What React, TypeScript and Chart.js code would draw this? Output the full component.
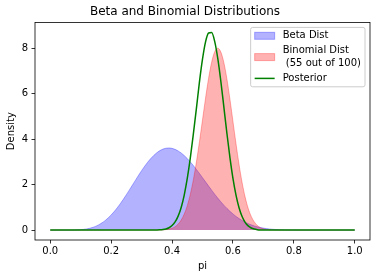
import { useEffect, useRef } from "react";
import { Chart, registerables } from "chart.js";

Chart.register(...registerables);

// Grid of success probabilities (pi) on [0, 1]
const PI_GRID = [
  0.0, 0.01, 0.02, 0.03, 0.04, 0.05, 0.06, 0.07, 0.08, 0.09,
  0.1, 0.11, 0.12, 0.13, 0.14, 0.15, 0.16, 0.17, 0.18, 0.19,
  0.2, 0.21, 0.22, 0.23, 0.24, 0.25, 0.26, 0.27, 0.28, 0.29,
  0.3, 0.31, 0.32, 0.33, 0.34, 0.35, 0.36, 0.37, 0.38, 0.39,
  0.4, 0.41, 0.42, 0.43, 0.44, 0.45, 0.46, 0.47, 0.48, 0.49,
  0.5, 0.51, 0.52, 0.53, 0.54, 0.55, 0.56, 0.57, 0.58, 0.59,
  0.6, 0.61, 0.62, 0.63, 0.64, 0.65, 0.66, 0.67, 0.68, 0.69,
  0.7, 0.71, 0.72, 0.73, 0.74, 0.75, 0.76, 0.77, 0.78, 0.79,
  0.8, 0.81, 0.82, 0.83, 0.84, 0.85, 0.86, 0.87, 0.88, 0.89,
  0.9, 0.91, 0.92, 0.93, 0.94, 0.95, 0.96, 0.97, 0.98, 0.99,
  1.0,
];

// Prior beta density
const BETA_DIST = [
  0, 0, 0, 0, 0.0001, 0.0003, 0.0009, 0.0022, 0.0051, 0.0103,
  0.019, 0.033, 0.053, 0.082, 0.121, 0.173, 0.239, 0.319, 0.417, 0.532,
  0.665, 0.815, 0.981, 1.161, 1.355, 1.56, 1.769, 1.985, 2.198, 2.412,
  2.616, 2.808, 2.988, 3.147, 3.286, 3.403, 3.496, 3.563, 3.602, 3.613,
  3.595, 3.552, 3.482, 3.392, 3.279, 3.147, 3.0, 2.839, 2.669, 2.491,
  2.306, 2.122, 1.938, 1.757, 1.58, 1.41, 1.249, 1.098, 0.957, 0.828,
  0.71, 0.603, 0.508, 0.424, 0.35, 0.286, 0.231, 0.185, 0.146, 0.114,
  0.088, 0.067, 0.05, 0.037, 0.027, 0.019, 0.0135, 0.0092, 0.0062, 0.0041,
  0.0026, 0.0017, 0.0011, 0.0007, 0.0004, 0.0002, 0, 0, 0, 0,
  0, 0, 0, 0, 0, 0, 0, 0, 0, 0,
  0,
];

// Likelihood of 55 successes out of 100, scaled as a density
const BINOMIAL_DIST = [
  0, 0, 0, 0, 0, 0, 0, 0, 0, 0,
  0, 0, 0, 0, 0, 0, 0, 0, 0, 0,
  0, 0, 0, 0, 0, 0, 0, 0, 0, 0,
  0, 0, 0, 0.0003, 0.0008, 0.002, 0.0046, 0.0102, 0.0216, 0.0434,
  0.083, 0.151, 0.264, 0.441, 0.703, 1.075, 1.577, 2.22, 2.999, 3.89,
  4.848, 5.803, 6.678, 7.381, 7.841, 8.0, 7.839, 7.375, 6.658, 5.764,
  4.782, 3.799, 2.887, 2.096, 1.453, 0.959, 0.602, 0.36, 0.203, 0.109,
  0.0549, 0.0261, 0.0116, 0.0048, 0.0019, 0.0007, 0.0002, 0, 0, 0,
  0, 0, 0, 0, 0, 0, 0, 0, 0, 0,
  0, 0, 0, 0, 0, 0, 0, 0, 0, 0,
  0,
];

// Posterior beta density
const POSTERIOR = [
  0, 0, 0, 0, 0, 0, 0, 0, 0, 0,
  0, 0, 0, 0, 0, 0, 0, 0, 0, 0,
  0, 0, 0, 0, 0, 0, 0, 0, 0, 0,
  0, 0, 0, 0.0006, 0.0017, 0.0045, 0.0108, 0.0244, 0.052, 0.105,
  0.2, 0.36, 0.615, 0.998, 1.542, 2.27, 3.175, 4.23, 5.35, 6.52,
  7.52, 8.28, 8.67, 8.69, 8.3, 7.56, 6.57, 5.43, 4.27, 3.2,
  2.275, 1.536, 0.983, 0.595, 0.341, 0.184, 0.0935, 0.0446, 0.02, 0.0084,
  0.0032, 0.0012, 0.0004, 0, 0, 0, 0, 0, 0, 0,
  0, 0, 0, 0, 0, 0, 0, 0, 0, 0,
  0, 0, 0, 0, 0, 0, 0, 0, 0, 0,
  0,
];

const X_TICKS = [0, 0.2, 0.4, 0.6, 0.8, 1.0];
const Y_TICKS = [0, 2, 4, 6, 8];
const TITLE = "Beta and Binomial Distributions";
const X_LABEL = "pi";
const Y_LABEL = "Density";
const SERIES_LABELS = ["Beta Dist", "Binomial Dist\n (55 out of 100)", "Posterior"];

const FONT = "DejaVu Sans";

const toPoints = (ys: number[]) => PI_GRID.map((x, i) => ({ x, y: ys[i] }));

// Full box around the plotting area
const framePlugin = {
  id: "axesFrame",
  afterDatasetsDraw(chart: any) {
    const { ctx, chartArea: a } = chart;
    ctx.save();
    ctx.strokeStyle = "#000";
    ctx.lineWidth = 0.8;
    ctx.strokeRect(a.left, a.top, a.right - a.left, a.bottom - a.top);
    ctx.restore();
  },
};

// Boxed legend in the upper right corner, with patch / line handles
const legendPlugin = {
  id: "boxLegend",
  afterDraw(chart: any) {
    const { ctx, chartArea: a } = chart;
    const pad = 4;
    const handleLen = 20;
    const handleGap = 8;
    const lineStep = 12.6;
    const rowStep = 15;
    ctx.save();
    ctx.font = `10px "${FONT}"`;
    const rows = chart.data.datasets
      .slice()
      .sort((p: any, q: any) => p.legendRank - q.legendRank);
    let maxW = 0;
    rows.forEach((ds: any) =>
      String(ds.label)
        .split("\n")
        .forEach((t) => (maxW = Math.max(maxW, ctx.measureText(t).width)))
    );
    const width = pad + handleLen + handleGap + maxW + pad;
    const right = a.right - 5;
    const top = a.top + 5;
    const left = right - width;

    // lay out the rows
    let cursor = top + 8.4;
    const layout: { ds: any; lines: string[]; ys: number[] }[] = [];
    rows.forEach((ds: any) => {
      const lines = String(ds.label).split("\n");
      const ys = lines.map((_, k) => cursor + k * lineStep);
      layout.push({ ds, lines, ys });
      cursor = ys[ys.length - 1] + rowStep;
    });
    const lastY = layout[layout.length - 1].ys.slice(-1)[0];
    const height = lastY + 8.4 - top;

    ctx.beginPath();
    ctx.roundRect(left, top, width, height, 2);
    ctx.fillStyle = "rgba(255,255,255,0.8)";
    ctx.fill();
    ctx.strokeStyle = "#cccccc";
    ctx.lineWidth = 1;
    ctx.stroke();

    layout.forEach(({ ds, lines, ys }) => {
      const cy = (ys[0] + ys[ys.length - 1]) / 2;
      const hx = left + pad;
      if (ds.fill) {
        ctx.fillStyle = ds.backgroundColor;
        ctx.fillRect(hx, cy - 3.5, handleLen, 7);
        ctx.strokeStyle = ds.borderColor;
        ctx.lineWidth = 1;
        ctx.strokeRect(hx, cy - 3.5, handleLen, 7);
      } else {
        ctx.beginPath();
        ctx.moveTo(hx, cy);
        ctx.lineTo(hx + handleLen, cy);
        ctx.strokeStyle = ds.borderColor;
        ctx.lineWidth = ds.borderWidth;
        ctx.stroke();
      }
      ctx.fillStyle = "#000";
      ctx.textBaseline = "middle";
      ctx.textAlign = "left";
      lines.forEach((t, k) => ctx.fillText(t, hx + handleLen + handleGap, ys[k]));
    });
    ctx.restore();
  },
};

export default function App() {
  const canvasRef = useRef<HTMLCanvasElement | null>(null);

  useEffect(() => {
    document.body.style.margin = "0";
    document.body.style.background = "#fff";
    const canvas = canvasRef.current;
    if (!canvas) return;

    const chart = new Chart(canvas, {
      type: "line",
      data: {
        datasets: [
          {
            label: SERIES_LABELS[2],
            data: toPoints(POSTERIOR),
            borderColor: "#008000",
            borderWidth: 1.5,
            pointRadius: 0,
            fill: false,
            cubicInterpolationMode: "monotone",
            order: 0,
            legendRank: 2,
          } as any,
          {
            label: SERIES_LABELS[1],
            data: toPoints(BINOMIAL_DIST),
            borderColor: "rgba(255,0,0,0.3)",
            backgroundColor: "rgba(255,0,0,0.3)",
            borderWidth: 1,
            pointRadius: 0,
            fill: "origin",
            cubicInterpolationMode: "monotone",
            order: 1,
            legendRank: 1,
          } as any,
          {
            label: SERIES_LABELS[0],
            data: toPoints(BETA_DIST),
            borderColor: "rgba(0,0,255,0.3)",
            backgroundColor: "rgba(0,0,255,0.3)",
            borderWidth: 1,
            pointRadius: 0,
            fill: "origin",
            cubicInterpolationMode: "monotone",
            order: 2,
            legendRank: 0,
          } as any,
        ],
      },
      options: {
        responsive: false,
        animation: false,
        devicePixelRatio: 1,
        layout: { padding: { left: 0, right: 6, top: 0, bottom: 0 } },
        plugins: {
          legend: { display: false },
          tooltip: { enabled: false },
          title: {
            display: true,
            text: TITLE,
            color: "#000",
            font: { family: FONT, size: 12, weight: "normal" },
            padding: { top: 5, bottom: 3 },
          },
        },
        scales: {
          x: {
            type: "linear",
            min: -0.05,
            max: 1.05,
            afterBuildTicks: (scale: any) => {
              scale.ticks = X_TICKS.map((value) => ({ value }));
            },
            afterFit: (scale: any) => {
              scale.height = 38;
            },
            ticks: {
              autoSkip: false,
              maxRotation: 0,
              padding: 2.2,
              color: "#000",
              font: { family: FONT, size: 10 },
              callback: (v: any) => Number(v).toFixed(1),
            },
            grid: {
              display: true,
              drawOnChartArea: false,
              drawTicks: true,
              tickLength: 3.5,
              tickWidth: 0.8,
              tickColor: "#000",
            },
            border: { display: false },
            title: {
              display: true,
              text: X_LABEL,
              color: "#000",
              font: { family: FONT, size: 10 },
              padding: { top: 0, bottom: 6 },
            },
          },
          y: {
            type: "linear",
            min: -0.435,
            max: 9.135,
            afterBuildTicks: (scale: any) => {
              scale.ticks = Y_TICKS.map((value) => ({ value }));
            },
            afterFit: (scale: any) => {
              scale.width = 35;
            },
            ticks: {
              autoSkip: false,
              padding: 3.5,
              color: "#000",
              font: { family: FONT, size: 10 },
              callback: (v: any) => String(v),
            },
            grid: {
              display: true,
              drawOnChartArea: false,
              drawTicks: true,
              tickLength: 3.5,
              tickWidth: 0.8,
              tickColor: "#000",
            },
            border: { display: false },
            title: {
              display: true,
              text: Y_LABEL,
              color: "#000",
              font: { family: FONT, size: 10 },
              padding: { top: 5.5, bottom: 0 },
            },
          },
        },
      },
      plugins: [framePlugin, legendPlugin],
    });

    return () => chart.destroy();
  }, []);

  return (
    <div style={{ width: 376, height: 278 }}>
      <canvas ref={canvasRef} width={376} height={278} />
    </div>
  );
}
